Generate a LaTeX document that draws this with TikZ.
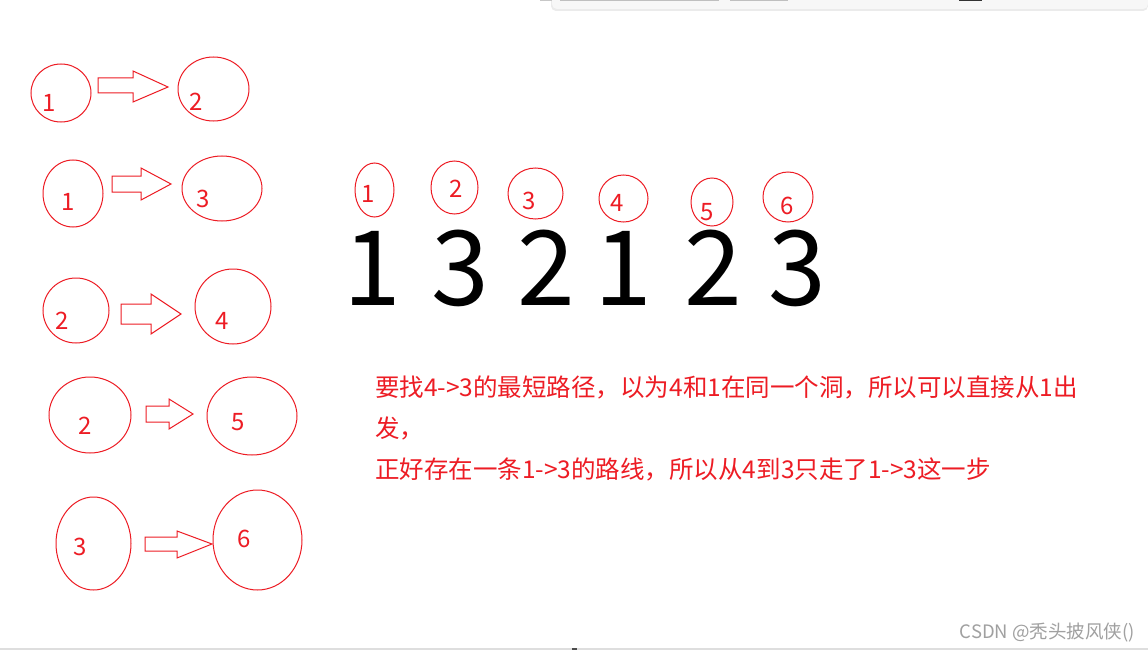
\documentclass[tikz,border=0pt]{standalone}
\usepackage{fontspec}
\setmainfont{Noto Sans CJK SC}
\usetikzlibrary{shapes.geometric}
\definecolor{pred}{RGB}{237,28,36}
\definecolor{wmark}{RGB}{160,160,160}
\newcommand{\barr}[8]{%
  \draw[barrow] (#1,#4) -- (#2,#4) -- (#2,#6) -- (#3,#8) -- (#2,#7) -- (#2,#5) -- (#1,#5) -- cycle;}
\begin{document}
\begin{tikzpicture}[x=1pt,y=-1pt,
  ell/.style={draw=pred, line width=1pt, ellipse, inner sep=0pt},
  lab/.style={text=pred, font=\fontsize{24}{24}\selectfont, inner sep=0pt},
  big/.style={font=\fontsize{104}{104}\selectfont, inner sep=0pt, anchor=base},
  txt/.style={text=pred, font=\fontsize{24.5}{24.5}\selectfont, inner sep=0pt, anchor=base west},
  barrow/.style={draw=pred, line width=1pt, fill=white, line join=miter}]
\useasboundingbox[fill=white] (0,0) rectangle (1148,650);

% top floating bar (screenshot artefact)
\fill[black!8, rounded corners=5] (551,-10) rectangle (1148,11);
\fill[black!3, rounded corners=5] (552,-10) rectangle (1148,9);
\fill[black!22] (540,0) rectangle (552,0.8);
\fill[black!25] (560,0) rectangle (719,1.2);
\fill[black!25] (730,0) rectangle (788,1.2);
\fill[black!80] (959,0) rectangle (982,1.5);
% bottom edge
\fill[black!13] (0,647.5) rectangle (1148,650);
\fill[black!70] (572,647.5) rectangle (577,650);

% left column pairs
\node[ell, minimum width=60, minimum height=58] (l1) at (61,93) {};
\node[lab] (l1t) at (49,103) {1};
\node[ell, minimum width=71, minimum height=64] (r1) at (213.5,89) {};
\node[lab] (r1t) at (196,102) {2};
\barr{98}{133}{168}{78}{93}{71}{102}{87}

\node[ell, minimum width=60, minimum height=67] (l2) at (73,193.5) {};
\node[lab] (l2t) at (68,202) {1};
\node[ell, minimum width=80, minimum height=65] (r2) at (222,188.5) {};
\node[lab] (r2t) at (203,199) {3};
\barr{112}{141}{171}{176}{192}{168}{200}{184}

\node[ell, minimum width=66, minimum height=65] (l3) at (76,310.5) {};
\node[lab] (l3t) at (62,321) {2};
\node[ell, minimum width=76, minimum height=75] (r3) at (233,306.5) {};
\node[lab] (r3t) at (222,321) {4};
\barr{121}{151}{181}{304}{324}{294}{334}{314}

\node[ell, minimum width=82, minimum height=76] (l4) at (90,415) {};
\node[lab] (l4t) at (85,426) {2};
\node[ell, minimum width=90, minimum height=78] (r4) at (252,416) {};
\node[lab] (r4t) at (238,422) {5};
\barr{146}{169}{193}{406}{422}{399}{429}{414}

\node[ell, minimum width=75, minimum height=93] (l5) at (93.5,543.5) {};
\node[lab] (l5t) at (80,547) {3};
\node[ell, minimum width=89, minimum height=100] (r5) at (257.5,540) {};
\node[lab] (r5t) at (244,539) {6};
\barr{145}{177}{212}{537}{551}{531}{558}{544}

% top row of index ellipses
\node[ell, minimum width=39, minimum height=54] (e1) at (374.5,190) {};
\node[lab] (e1t) at (368,194) {1};
\node[ell, minimum width=47, minimum height=53] (e2) at (454.5,187.5) {};
\node[lab] (e2t) at (456,189) {2};
\node[ell, minimum width=55, minimum height=51] (e3) at (535.5,193.5) {};
\node[lab] (e3t) at (529,201) {3};
\node[ell, minimum width=49, minimum height=47] (e4) at (623.5,198.5) {};
\node[lab] (e4t) at (617,203) {4};
\node[ell, minimum width=42, minimum height=48] (e5) at (712,202) {};
\node[lab] (e5t) at (707,212) {5};
\node[ell, minimum width=50, minimum height=50] (e6) at (788,197) {};
\node[lab] (e6t) at (787,206) {6};

% big digits
\node[big] (b1) at (372,305) {1};
\node[big] (b2) at (460,305) {3};
\node[big] (b3) at (546,305) {2};
\node[big] (b4) at (623,305) {1};
\node[big] (b5) at (713,305) {2};
\node[big] (b6) at (797,305) {3};

% explanation
\node[txt] (t1) at (375,396) {要找4->3的最短路径，以为4和1在同一个洞，所以可以直接从1出};
\node[txt] (t2) at (375,437) {发，};
\node[txt] (t3) at (375,478) {正好存在一条1->3的路线，所以从4到3只走了1->3这一步};

% watermark
\node[anchor=base east, text=wmark, font=\fontsize{18.5}{18.5}\selectfont, inner sep=0pt] (wm) at (1135,638) {CSDN @秃头披风侠()};
\end{tikzpicture}
\end{document}
